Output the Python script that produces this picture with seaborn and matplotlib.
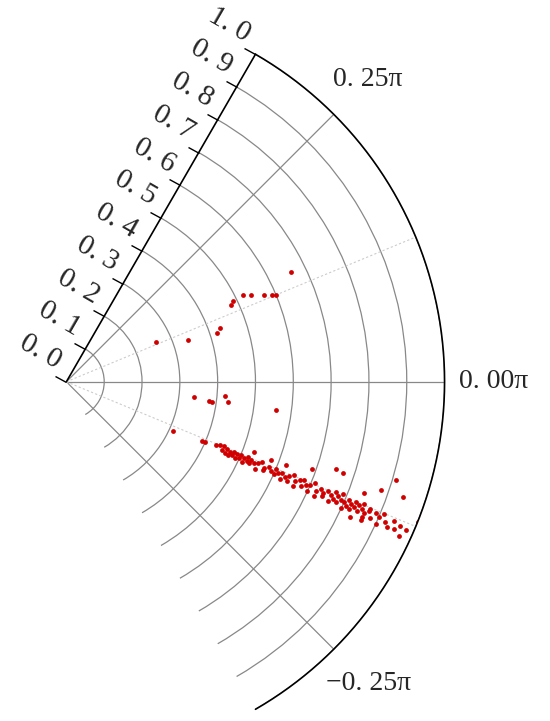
import numpy as np
import matplotlib.pyplot as plt
import seaborn as sns

# radial distance and angle (degrees)
upper_r = [0.26, 0.34, 0.42, 0.43, 0.48, 0.49, 0.52, 0.54, 0.57, 0.59, 0.60, 0.66]
upper_t = [23.7, 18.9, 18.0, 19.2, 25.0, 25.8, 26.3, 25.0, 23.6, 23.0, 22.6, 26.0]

mid_r = [0.34, 0.38, 0.39, 0.42, 0.43, 0.56, 0.31, 0.39, 0.40]
mid_t = [-6.7, -7.5, -8.0, -5.0, -7.0, -7.6, -25.0, -23.6, -23.4]

band_r = [0.43, 0.44, 0.45, 0.45, 0.46, 0.46, 0.47, 0.47, 0.48, 0.48, 0.49, 0.49,
          0.50, 0.50, 0.51, 0.51, 0.52, 0.52, 0.53, 0.53, 0.54, 0.55, 0.55, 0.56,
          0.57, 0.57, 0.58, 0.59, 0.60, 0.60, 0.61, 0.62, 0.62, 0.63, 0.64, 0.64,
          0.65, 0.66, 0.66, 0.67, 0.68, 0.68, 0.69, 0.70, 0.70, 0.71, 0.72, 0.72,
          0.73, 0.74, 0.74, 0.75, 0.76, 0.76, 0.77, 0.77, 0.78, 0.78, 0.79, 0.79,
          0.80, 0.80, 0.81, 0.81, 0.82, 0.82, 0.83, 0.83, 0.84, 0.84, 0.85, 0.85,
          0.86, 0.86, 0.87, 0.87, 0.88, 0.89, 0.90, 0.90, 0.91, 0.92, 0.93, 0.94,
          0.95, 0.96, 0.98, 1.00, 0.75, 0.77, 0.91, 0.94, 0.88, 0.84, 0.69, 0.62,
          0.53, 0.58, 0.83, 0.86, 0.97]
band_t = [-23.0, -22.2, -23.5, -22.0, -24.0, -22.8, -23.2, -24.4, -22.6, -23.8, -23.1, -24.2,
          -22.7, -23.9, -23.3, -24.6, -22.5, -23.6, -24.0, -22.9, -23.4, -24.8, -23.0, -22.4,
          -23.7, -24.3, -22.8, -23.5, -24.1, -22.6, -23.2, -24.5, -22.9, -23.6, -23.0, -24.2,
          -22.3, -23.4, -24.7, -22.8, -23.9, -22.5, -23.3, -24.4, -23.0, -22.1, -23.6, -24.8,
          -22.9, -23.4, -24.0, -22.6, -23.1, -24.5, -22.2, -23.7, -22.8, -24.1, -23.3, -22.0,
          -23.5, -24.6, -22.7, -23.9, -23.2, -24.3, -22.5, -23.6, -22.9, -24.0, -23.3, -22.4,
          -23.8, -24.6, -22.7, -23.2, -24.1, -22.9, -23.5, -24.7, -22.6, -23.8, -24.4, -23.0,
          -24.2, -23.4, -23.6, -21.7, -17.9, -18.3, -16.6, -18.9, -18.9, -20.5, -19.6, -20.8,
          -20.5, -21.0, -25.5, -25.2, -24.8]

sns.set_theme(style="white")
plt.rcParams['font.family'] = ['Liberation Serif', 'DejaVu Serif']

r = upper_r + mid_r + band_r
t = np.deg2rad(upper_t + mid_t + band_t)

fig = plt.figure(figsize=(5.5, 7.21), dpi=100)
ax = fig.add_axes([-0.131, -0.314, 1.191, 1.569], projection="polar")
ax.set_thetamin(-60)
ax.set_thetamax(60)
ax.set_ylim(0, 1.0)
ax.set_frame_on(False)

sns.scatterplot(x=t, y=r, ax=ax, color="#d00000", s=12, linewidth=0, zorder=3)

ax.set_xticks(np.deg2rad([-45, 0, 45]))
ax.set_xticklabels(["\u22120. 25\u03c0", "0. 00\u03c0", "0. 25\u03c0"])
ax.tick_params(axis="x", pad=22, labelsize=20)
ax.set_yticks(np.arange(0, 1.01, 0.1))
ax.set_yticklabels([f"{v:.1f}".replace(".", ". ") for v in np.arange(0, 1.01, 0.1)])
ax.tick_params(axis="y", left=False, labelleft=False, right=True, labelright=True,
               direction="out", length=9, width=1, color="black", pad=2,
               labelrotation=-30, labelsize=21)
ax.grid(True, color="#888888", linewidth=0.9)
for a in [22.5, -22.5]:
    ax.plot([np.deg2rad(a)] * 2, [0, 1], color="#cccccc", lw=0.8, ls=(0, (2, 2)), zorder=1)
# outer arc and upper edge drawn by hand, lower edge left open as in the reference
arc = np.deg2rad(np.linspace(-60, 60, 241))
ax.plot(arc, np.ones_like(arc), color="black", lw=1.2, zorder=4, clip_on=False)
ax.plot([np.deg2rad(60)] * 2, [0, 1], color="black", lw=1.2, zorder=4, clip_on=False)
ax.set_xlabel("")
ax.set_ylabel("")

fig.savefig("out.png", dpi=100)
